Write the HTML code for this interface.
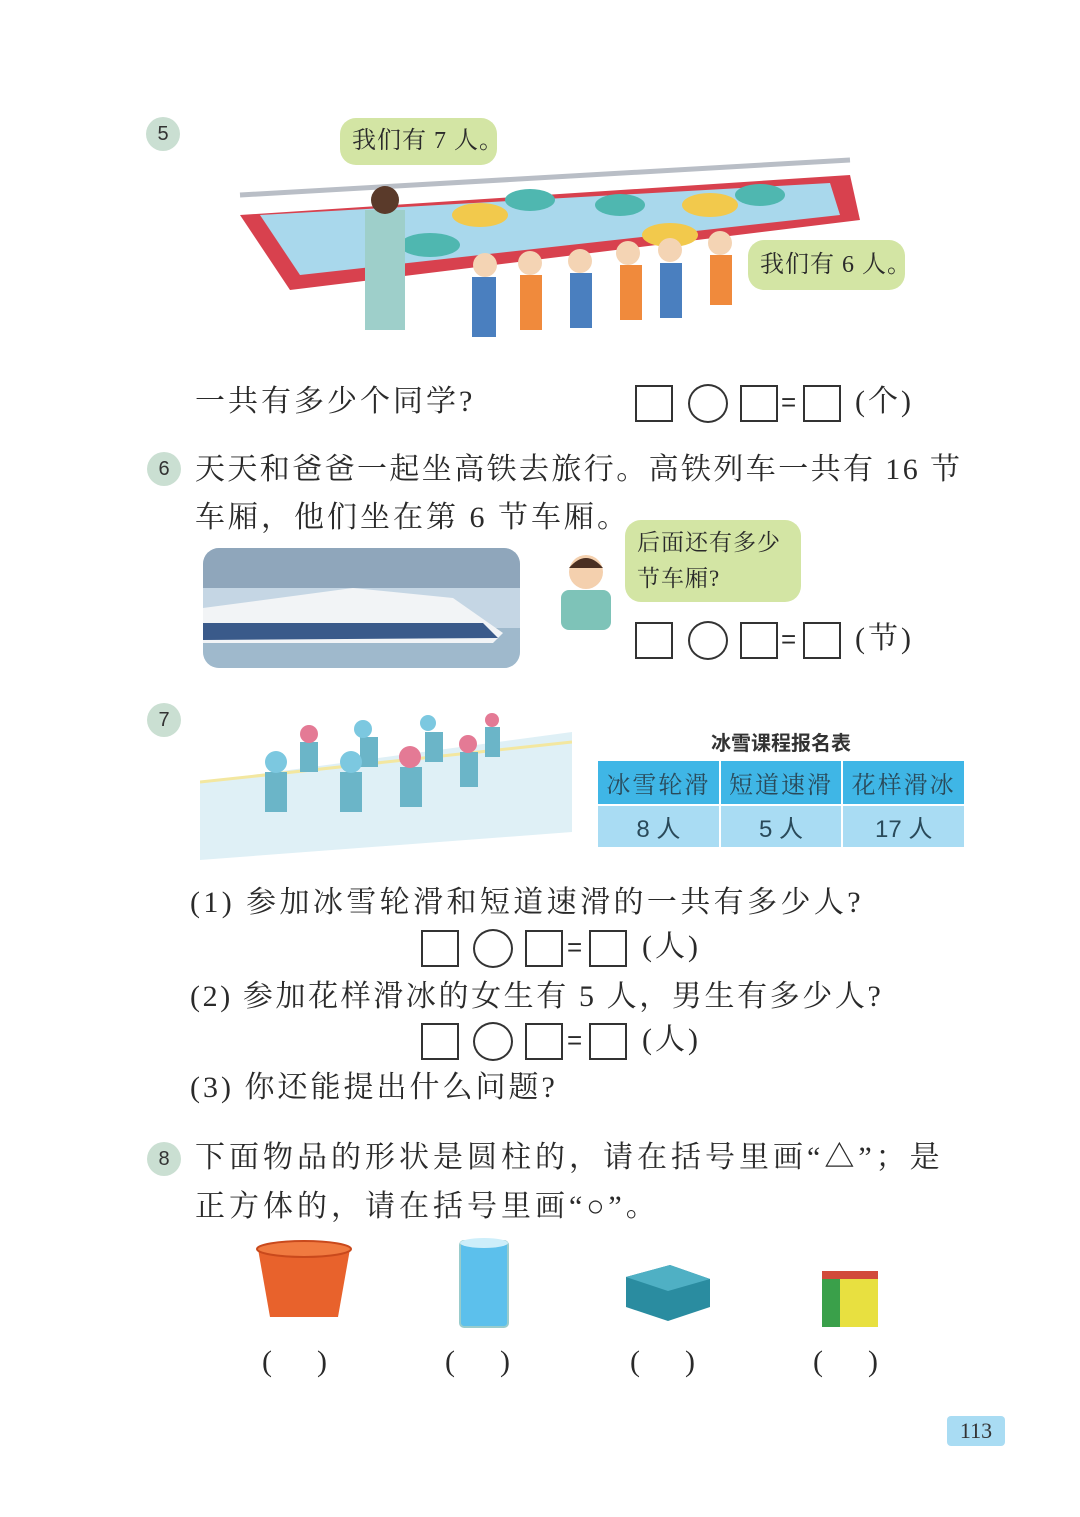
<!DOCTYPE html>
<html><head><meta charset="utf-8"><style>
body{margin:0;width:1080px;height:1517px;background:#fff;position:relative;overflow:hidden;font-family:"Liberation Serif","Noto Serif CJK SC",serif;color:#2a2a2a}
.a{position:absolute;white-space:nowrap}
.t{font-size:30px;letter-spacing:3px;line-height:40px}
.num{position:absolute;width:34px;height:34px;border-radius:50%;background:#cadfd2;font:20px "Liberation Sans",sans-serif;text-align:center;line-height:34px;color:#333}
.bub{position:absolute;background:#d3e5a4;border-radius:16px;font-size:24px;letter-spacing:1px;padding-left:12px;box-sizing:border-box;white-space:nowrap}
.sq{position:absolute;width:38px;height:37px;border:2px solid #333;box-sizing:border-box}
.ci{position:absolute;width:40px;height:39px;border:2px solid #333;border-radius:50%;box-sizing:border-box}
.eq{position:absolute;font:26px "Liberation Sans",sans-serif}
td{border:2px solid #fff;text-align:center;color:#2a4a5a}
</style></head><body>
<!-- 5 -->
<div class="num" style="left:146px;top:117px">5</div>
<svg class="a" style="left:230px;top:155px" width="640" height="215">
<polygon points="10,60 620,20 630,65 60,135" fill="#d8414e"/>
<polygon points="30,60 600,28 610,60 70,120" fill="#a9d8ec"/>
<polyline points="10,40 620,5" stroke="#b9bec6" stroke-width="5" fill="none"/>
<g fill="#f2c94c"><ellipse cx="250" cy="60" rx="28" ry="12"/><ellipse cx="480" cy="50" rx="28" ry="12"/><ellipse cx="440" cy="80" rx="28" ry="12"/></g>
<g fill="#4fb7b0"><ellipse cx="300" cy="45" rx="25" ry="11"/><ellipse cx="390" cy="50" rx="25" ry="11"/><ellipse cx="530" cy="40" rx="25" ry="11"/><ellipse cx="200" cy="90" rx="30" ry="12"/></g>
<rect x="135" y="55" width="40" height="120" fill="#9ecfca"/><circle cx="155" cy="45" r="14" fill="#5a3a2a"/>
<g fill="#f4d4b4"><circle cx="255" cy="110" r="12"/><circle cx="300" cy="108" r="12"/><circle cx="350" cy="106" r="12"/><circle cx="398" cy="98" r="12"/><circle cx="440" cy="95" r="12"/><circle cx="490" cy="88" r="12"/></g>
<g fill="#4a7fbf"><rect x="242" y="122" width="24" height="60"/><rect x="340" y="118" width="22" height="55"/><rect x="430" y="108" width="22" height="55"/></g>
<g fill="#f08a3c"><rect x="290" y="120" width="22" height="55"/><rect x="390" y="110" width="22" height="55"/><rect x="480" y="100" width="22" height="50"/></g>
</svg>
<div class="bub" style="left:340px;top:118px;width:157px;height:47px;line-height:47px">我们有 7 人。</div>
<div class="bub" style="left:748px;top:240px;width:157px;height:50px;line-height:50px">我们有 6 人。</div>
<div class="a t" style="left:195px;top:382px">一共有多少个同学?</div>
<div class="sq" style="left:635px;top:385px"></div><div class="ci" style="left:688px;top:384px"></div><div class="sq" style="left:740px;top:385px"></div>
<div class="eq" style="left:781px;top:387px">=</div><div class="sq" style="left:803px;top:385px"></div>
<div class="a t" style="left:855px;top:382px">(个)</div>
<!-- 6 -->
<div class="num" style="left:147px;top:452px">6</div>
<div class="a t" style="left:195px;top:450px;letter-spacing:2.4px">天天和爸爸一起坐高铁去旅行。高铁列车一共有 16 节</div>
<div class="a t" style="left:195px;top:498px">车厢，他们坐在第 6 节车厢。</div>
<svg class="a" style="left:203px;top:548px" width="317" height="120"><defs><clipPath id="c"><rect width="317" height="120" rx="16"/></clipPath></defs><g clip-path="url(#c)"><rect width="317" height="120" fill="#c5d6e4"/><rect y="0" width="317" height="40" fill="#8fa6bb"/><rect y="80" width="317" height="40" fill="#9fb9cc"/><polygon points="0,60 150,40 250,50 300,85 290,95 0,95" fill="#f2f4f6"/><polygon points="0,75 280,75 295,90 0,92" fill="#3a5a8a"/></g></svg>
<svg class="a" style="left:555px;top:550px" width="62" height="80"><circle cx="31" cy="22" r="17" fill="#f4d0ae"/><path d="M14 18 Q31 -2 48 18 Z" fill="#4a2f22"/><rect x="6" y="40" width="50" height="40" rx="8" fill="#7ec3b8"/></svg>
<div class="bub" style="left:625px;top:520px;width:176px;height:82px;font-size:23px;line-height:36px;padding-top:5px;white-space:normal">后面还有多少<br>节车厢?</div>
<div class="sq" style="left:635px;top:622px"></div><div class="ci" style="left:688px;top:621px"></div><div class="sq" style="left:740px;top:622px"></div>
<div class="eq" style="left:781px;top:624px">=</div><div class="sq" style="left:803px;top:622px"></div>
<div class="a t" style="left:855px;top:619px">(节)</div>
<!-- 7 -->
<div class="num" style="left:147px;top:703px">7</div>
<svg class="a" style="left:200px;top:712px" width="372" height="150"><polygon points="0,70 372,20 372,120 0,148" fill="#dff0f6"/><polyline points="0,70 372,30" stroke="#f3e7a0" stroke-width="3" fill="none"/>
<g fill="#6bb5c8"><rect x="65" y="60" width="22" height="40"/><rect x="140" y="60" width="22" height="40"/><rect x="200" y="55" width="22" height="40"/><rect x="100" y="30" width="18" height="30"/><rect x="160" y="25" width="18" height="30"/><rect x="225" y="20" width="18" height="30"/><rect x="260" y="40" width="18" height="35"/><rect x="285" y="15" width="15" height="30"/></g>
<g fill="#7cc8e0"><circle cx="76" cy="50" r="11"/><circle cx="151" cy="50" r="11"/><circle cx="163" cy="17" r="9"/><circle cx="228" cy="11" r="8"/></g>
<g fill="#e47a95"><circle cx="109" cy="22" r="9"/><circle cx="210" cy="45" r="11"/><circle cx="268" cy="32" r="9"/><circle cx="292" cy="8" r="7"/></g></svg>
<div class="a" style="left:597px;top:727px;width:368px;text-align:center;font:bold 20px 'Liberation Sans','Noto Sans CJK SC',sans-serif;color:#333">冰雪课程报名表</div>
<table class="a" style="left:596px;top:759px;width:370px;border-collapse:collapse;font-size:24px">
<tr style="background:#3fb6e6;height:45px"><td style="letter-spacing:2px">冰雪轮滑</td><td style="letter-spacing:2px">短道速滑</td><td style="letter-spacing:2px">花样滑冰</td></tr>
<tr style="background:#a9dcf3;height:43px;font-family:'Liberation Sans','Noto Sans CJK SC',sans-serif"><td>8 人</td><td>5 人</td><td>17 人</td></tr></table>
<div class="a t" style="left:190px;top:883px;letter-spacing:3.4px">(1) 参加冰雪轮滑和短道速滑的一共有多少人?</div>
<div class="sq" style="left:421px;top:930px"></div><div class="ci" style="left:473px;top:929px"></div><div class="sq" style="left:525px;top:930px"></div>
<div class="eq" style="left:567px;top:932px">=</div><div class="sq" style="left:589px;top:930px"></div>
<div class="a t" style="left:642px;top:927px">(人)</div>
<div class="a t" style="left:190px;top:977px;letter-spacing:2.6px">(2) 参加花样滑冰的女生有 5 人，男生有多少人?</div>
<div class="sq" style="left:421px;top:1023px"></div><div class="ci" style="left:473px;top:1022px"></div><div class="sq" style="left:525px;top:1023px"></div>
<div class="eq" style="left:567px;top:1025px">=</div><div class="sq" style="left:589px;top:1023px"></div>
<div class="a t" style="left:642px;top:1020px">(人)</div>
<div class="a t" style="left:190px;top:1068px">(3) 你还能提出什么问题?</div>
<!-- 8 -->
<div class="num" style="left:147px;top:1142px">8</div>
<div class="a t" style="left:195px;top:1138px;letter-spacing:4px">下面物品的形状是圆柱的，请在括号里画“△”；是</div>
<div class="a t" style="left:195px;top:1187px;letter-spacing:4px">正方体的，请在括号里画“○”。</div>
<svg class="a" style="left:250px;top:1235px" width="650" height="100">
<polygon points="8,14 100,14 88,82 20,82" fill="#e8622c"/><ellipse cx="54" cy="14" rx="47" ry="8" fill="#f07a40" stroke="#c9491c" stroke-width="2"/>
<rect x="210" y="6" width="48" height="86" rx="4" fill="#5cc0ec" stroke="#9cc" stroke-width="2"/><ellipse cx="234" cy="8" rx="24" ry="5" fill="#cdeefa"/>
<polygon points="376,42 420,30 460,44 460,72 418,86 376,72" fill="#2a8ca0"/><polygon points="376,42 420,30 460,44 418,56" fill="#4fb0c4"/>
<rect x="572" y="40" width="56" height="52" fill="#e8e040"/><rect x="572" y="40" width="18" height="52" fill="#3aa04a"/><rect x="572" y="36" width="56" height="8" fill="#d24a3a"/>
</svg>
<div class="a t" style="left:262px;top:1342px">(&nbsp;&nbsp;&nbsp;&nbsp;)</div>
<div class="a t" style="left:445px;top:1342px">(&nbsp;&nbsp;&nbsp;&nbsp;)</div>
<div class="a t" style="left:630px;top:1342px">(&nbsp;&nbsp;&nbsp;&nbsp;)</div>
<div class="a t" style="left:813px;top:1342px">(&nbsp;&nbsp;&nbsp;&nbsp;)</div>
<div class="a" style="left:947px;top:1416px;width:58px;height:30px;background:#a9dcf3;border-radius:4px;text-align:center;line-height:30px;font-size:22px;color:#333">113</div>
</body></html>
